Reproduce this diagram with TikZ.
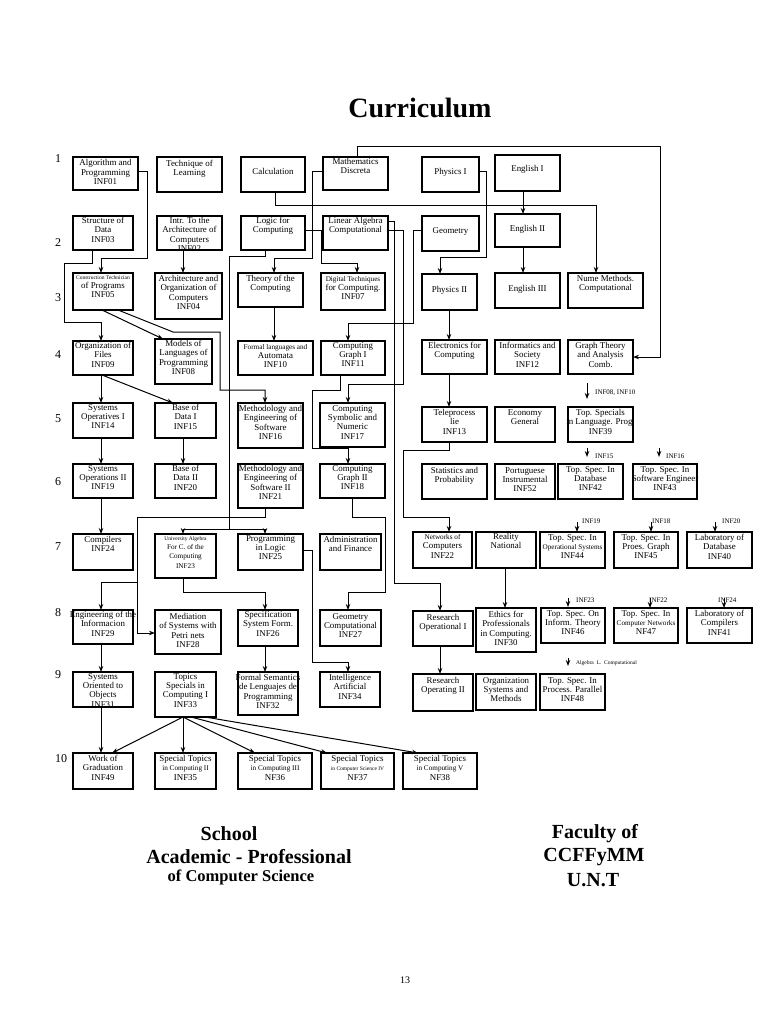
\documentclass[tikz,border=0pt]{standalone}
\usepackage{fontspec}
\setmainfont{Liberation Serif}
\usetikzlibrary{arrows.meta}
\newcommand\smtxt{\fontsize{7.2}{8}\selectfont}
\newcommand\tntxt{\fontsize{5.5}{7}\selectfont}
\newcommand\bx[7]{%
  \node[box, minimum width={#4-#2}, minimum height={#5-#3}] (#1) at ({(#2+#4)/2},{(#3+#5)/2}) {};
  \node[txt, anchor=north] (#1-t) at ({(#2+#4)/2},{#3+#6}) {#7};}
\begin{document}
\begin{tikzpicture}[x=1pt,y=-1pt,
  box/.style={draw, line width=1.2pt, inner sep=0pt, outer sep=0pt},
  txt/.style={font=\fontsize{8.9}{9.4}\selectfont, align=center, inner sep=0pt},
  con/.style={line width=1pt},
  arr/.style={con, -{Stealth[length=6pt,width=4.5pt]}},
  lab/.style={font=\fontsize{7}{7}\selectfont, inner sep=0pt, anchor=west},
  rn/.style={font=\fontsize{12}{12}\selectfont, inner sep=0pt},
  bt/.style={font=\bfseries\fontsize{20}{20}\selectfont, inner sep=0pt}]
\useasboundingbox[fill=white] (0,0) rectangle (768,1024);

\node[font=\bfseries\fontsize{28}{28}\selectfont, inner sep=0pt] (title) at (420,108) {Curriculum};

\node[rn] (r1) at (58,159) {1};
\node[rn] (r2) at (58,243) {2};
\node[rn] (r3) at (58,298) {3};
\node[rn] (r4) at (58,355) {4};
\node[rn] (r5) at (58,419) {5};
\node[rn] (r6) at (58,482) {6};
\node[rn] (r7) at (58,547) {7};
\node[rn] (r8) at (58,613) {8};
\node[rn] (r9) at (58,675) {9};
\node[rn] (r10) at (61,759) {10};

% row 1
\bx{inf01}{73}{157}{138}{190}{2.5}{Algorithm and\\Programming\\INF01}
\bx{tec}{157}{157}{222}{192}{3}{Technique of\\Learning}
\bx{calc}{241}{157}{305}{192}{11}{Calculation}
\bx{math}{323}{157}{388}{190}{1}{Mathematics\\Discreta}
\bx{phys1}{422}{157}{479}{192}{11}{Physics I}
\bx{eng1}{495}{155}{560}{191}{10}{English I}
% row 2
\bx{inf03}{73}{216}{133}{250}{1}{Structure of\\Data\\INF03}
\bx{inf02}{157}{216}{222}{250}{1}{Intr. To the\\Architecture of\\Computers\\INF02}
\bx{logic}{241}{216}{305}{250}{1}{Logic for\\Computing}
\bx{linalg}{323}{216}{388}{250}{1}{Linear Algebra\\Computational}
\bx{geom}{422}{216}{479}{251}{11}{Geometry}
\bx{eng2}{495}{214}{560}{247}{11}{English II}
% row 3
\bx{inf05}{73}{273}{133}{310}{2}{{\tntxt Construction Technician}\\of Programs\\INF05}
\bx{inf04}{155}{273}{222}{319}{2}{Architecture and\\Organization of\\Computers\\INF04}
\bx{theory}{238}{273}{303}{307}{2}{Theory of the\\Computing}
\bx{inf07}{321}{273}{385}{310}{3}{{\smtxt Digital Techniques}\\for Computing.\\INF07}
\bx{phys2}{422}{274}{477}{310}{12}{Physics II}
\bx{eng3}{495}{273}{560}{308}{12}{English III}
\bx{nume}{568}{273}{643}{308}{2}{Nume Methods.\\Computational}
% row 4
\bx{inf09}{73}{341}{133}{375}{1}{Organization of\\Files\\INF09}
\bx{inf08}{155}{339}{212}{384}{1}{Models of\\Languages of\\Programming\\INF08}
\bx{inf10}{238}{341}{313}{375}{3}{{\smtxt Formal languages and}\\Automata\\INF10}
\bx{inf11}{321}{341}{385}{375}{1}{Computing\\Graph I\\INF11}
\bx{elec}{422}{340}{487}{374}{2}{Electronics for\\Computing}
\bx{inf12}{495}{340}{560}{374}{2}{Informatics and\\Society\\INF12}
\bx{graph}{568}{340}{633}{374}{2}{Graph Theory\\and Analysis\\Comb.}
% row 5
\bx{inf14}{73}{403}{133}{438}{1}{Systems\\Operatives I\\INF14}
\bx{inf15}{155}{403}{216}{438}{1}{Base of\\Data I\\INF15}
\bx{inf16}{238}{403}{303}{448}{2}{Methodology and\\Engineering of\\Software\\INF16}
\bx{inf17}{320}{403}{385}{447}{2}{Computing\\Symbolic and\\Numeric\\INF17}
\bx{inf13}{422}{407}{487}{442}{2}{Teleprocess\\lie\\INF13}
\bx{econ}{495}{407}{555}{442}{2}{Economy\\General}
\bx{inf39}{568}{407}{633}{442}{2}{Top. Specials\\in Language. Prog.\\INF39}
% row 6
\bx{inf19}{73}{464}{133}{498}{1}{Systems\\Operations II\\INF19}
\bx{inf20}{155}{464}{216}{498}{1}{Base of\\Data II\\INF20}
\bx{inf21}{238}{464}{303}{508}{1}{Methodology and\\Engineering of\\Software II\\INF21}
\bx{inf18}{320}{464}{385}{498}{1}{Computing\\Graph II\\INF18}
\bx{stat}{422}{464}{487}{499}{3}{Statistics and\\Probability}
\bx{inf52}{495}{464}{555}{499}{3}{Portuguese\\Instrumental\\INF52}
\bx{inf42}{558}{464}{623}{499}{2}{Top. Spec. In\\Database\\INF42}
\bx{inf43}{633}{464}{697}{499}{2}{Top. Spec. In\\Software Engineer\\INF43}
% row 7
\bx{inf24}{73}{534}{133}{570}{2}{Compilers\\INF24}
\bx{inf23}{155}{534}{216}{578}{2}{{\tntxt University Algebra}\\{\smtxt For C. of the}\\{\smtxt Computing}\\{\smtxt INF23}}
\bx{inf25}{238}{534}{303}{570}{1}{Programming\\in Logic\\INF25}
\bx{admin}{320}{534}{381}{570}{2}{Administration\\and Finance}
\bx{inf22}{413}{532}{472}{568}{2}{{\smtxt Networks of}\\Computers\\INF22}
\bx{real}{476}{532}{536}{568}{1}{Reality\\National}
\bx{inf44}{540}{532}{605}{568}{2}{Top. Spec. In\\{\smtxt Operational Systems}\\INF44}
\bx{inf45}{614}{532}{678}{568}{2}{Top. Spec. In\\Proes. Graph\\INF45}
\bx{inf40}{687}{532}{752}{568}{2}{Laboratory of\\Database\\INF40}
% row 8
\bx{inf29}{73}{610}{133}{644}{1}{Engineering of the\\Informacion\\INF29}
\bx{inf28}{155}{610}{221}{654}{3}{Mediation\\of Systems with\\Petri nets\\INF28}
\bx{inf26}{238}{610}{298}{646}{1}{Specification\\System Form.\\INF26}
\bx{inf27}{320}{610}{381}{646}{3}{Geometry\\Computational\\INF27}
\bx{res1}{413}{611}{473}{646}{3}{Research\\Operational I}
\bx{inf30}{476}{608}{536}{652}{3}{Ethics for\\Professionals\\in Computing.\\INF30}
\bx{inf46}{541}{608}{605}{643}{2}{Top. Spec. On\\Inform. Theory\\INF46}
\bx{inf47}{614}{608}{678}{643}{2}{Top. Spec. In\\{\smtxt Computer Networks}\\NF47}
\bx{inf41}{687}{608}{752}{643}{2}{Laboratory of\\Compilers\\INF41}
% row 9
\bx{inf31}{73}{672}{133}{707}{1}{Systems\\Oriented to\\Objects\\INF31}
\bx{inf33}{155}{672}{216}{717}{1}{Topics\\Specials in\\Computing I\\INF33}
\bx{inf32}{238}{672}{298}{715}{2}{Formal Semantics\\de Lenguajes de\\Programming\\INF32}
\bx{inf34}{320}{672}{380}{707}{2}{Intelligence\\Artificial\\INF34}
\bx{res2}{413}{674}{473}{711}{3}{Research\\Operating II}
\bx{org}{476}{674}{536}{710}{3}{Organization\\Systems and\\Methods}
\bx{inf48}{540}{674}{605}{710}{3}{Top. Spec. In\\Process. Parallel\\INF48}
% row 10
\bx{inf49}{73}{753}{133}{789}{2}{Work of\\Graduation\\INF49}
\bx{inf35}{155}{753}{216}{789}{2}{Special Topics\\{\smtxt in Computing II}\\INF35}
\bx{nf36}{238}{753}{312}{789}{2}{Special Topics\\{\smtxt in Computing III}\\NF36}
\bx{nf37}{321}{753}{394}{789}{2}{Special Topics\\{\tntxt in Computer Science IV}\\NF37}
\bx{nf38}{403}{753}{477}{789}{2}{Special Topics\\{\smtxt in Computing V}\\NF38}

% connectors
\draw[arr] (inf01.east|-0,172) -- (147,172) -- (147,258) -- (101,258) -- (101,0|-inf05.north);
\draw[arr] (92,0|-inf03.south) -- (92,263) -- (64,263) -- (64,322) -- (101,322) -- (101,0|-inf09.north);
\draw[arr] (183,0|-inf02.south) -- (183,0|-inf04.north);
\coordinate (j1) at (229,529);
\draw[con] (265,0|-logic.south) -- (265,256) -- (229,256) -- (j1);
\draw[arr] (j1) -| (183,0|-inf23.north);
\draw[arr] (j1) -| (265,0|-inf25.north);
\draw[arr] (275,0|-calc.south) -- (275,206) -- (596,206) -- (596,0|-nume.north);
\draw[arr] (357,0|-math.north) -- (357,147) -- (660,147) -- (660,357) -- (graph.east|-0,357);
\draw[arr] (math.west|-0,172) -- (312,172) -- (312,258) -- (274,258) -- (274,0|-theory.north);
\draw[arr] (logic.east|-0,231) -- (321,231) -- (321,263) -- (357,263) -- (357,0|-inf07.north);
\draw[arr] (geom.west|-0,231) -- (413,231) -- (413,323) -- (348,323) -- (348,0|-inf11.north);
\draw[arr] (linalg.east|-0,231) -- (403,231) -- (403,384) -- (348,384) -- (348,0|-inf17.north);
\draw[arr] (linalg.east|-0,222) -- (394,222) -- (394,583) -- (440,583) -- (440,0|-res1.north);
\draw[arr] (340,0|-inf11.south) -- (340,390) -- (312,390) -- (312,448) -- (348,448) -- (348,0|-inf18.north);
\draw[arr] (102,0|-inf05.south) -- (163,0|-inf08.north);
\draw[arr] (118,0|-inf05.south) -- (173,332) -- (220,332) -- (220,390) -- (265,390) -- (265,0|-inf16.north);
\draw[arr] (102,0|-inf09.south) -- (173,0|-inf15.north);
\draw[arr] (101,0|-inf09.south) -- (101,0|-inf14.north);
\draw[arr] (101,0|-inf14.south) -- (101,0|-inf19.north);
\draw[arr] (183,0|-inf15.south) -- (183,0|-inf20.north);
\draw[arr] (101,0|-inf19.south) -- (101,0|-inf24.north);
\draw[arr] (274,0|-theory.south) -- (274,0|-inf10.north);
\draw[arr] (phys1.east|-0,172) -- (486,172) -- (486,257) -- (440,257) -- (440,0|-phys2.north);
\draw[arr] (523,0|-eng1.south) -- (523,0|-eng2.north);
\draw[arr] (523,0|-eng2.south) -- (523,0|-eng3.north);
\draw[arr] (449,0|-phys2.south) -- (449,0|-elec.north);
\draw[arr] (449,0|-elec.south) -- (449,0|-inf13.north);
\draw[arr] (449,0|-inf13.south) -- (449,450) -- (403,450) -- (403,517) -- (449,517) -- (449,0|-inf22.north);
\draw[arr] (352,0|-inf18.south) -- (352,517) -- (385,517) -- (385,592) -- (348,592) -- (348,0|-inf27.north);
\draw[arr] (inf25.east|-0,550) -- (312,550) -- (312,662) -- (348,662) -- (348,0|-inf34.north);
\coordinate (j2) at (137,633);
\coordinate (j3) at (137,582);
\draw[con] (265,0|-inf21.south) -- (265,517) -- (137,517) -- (j2);
\draw[arr] (j2) -- (inf28.west|-j2);
\draw[arr] (j3) -- (101,582) -- (101,0|-inf29.north);
\draw[arr] (183,0|-inf23.south) -- (183,592) -- (265,592) -- (265,0|-inf26.north);
\draw[arr] (265,0|-inf26.south) -- (265,0|-inf32.north);
\draw[arr] (101,0|-inf29.south) -- (101,0|-inf31.north);
\draw[arr] (101,0|-inf31.south) -- (101,0|-inf49.north);
\draw[arr] (183,0|-inf33.south) -- (112,0|-inf49.north);
\draw[arr] (183,0|-inf33.south) -- (183,0|-inf35.north);
\draw[arr] (183,0|-inf33.south) -- (255,0|-nf36.north);
\draw[arr] (191,0|-inf33.south) -- (327,0|-nf37.north);
\draw[arr] (205,0|-inf33.south) -- (418,0|-nf38.north);
\draw[arr] (505,0|-real.south) -- (505,0|-inf30.north);
\draw[arr] (440,0|-res1.south) -- (440,0|-res2.north);

% prerequisite labels
\coordinate (a1) at (587,383); \draw[arr] (a1) -- ++(0,16);
\node[lab] (l1) at (595,393) {INF08, INF10};
\coordinate (a2) at (587,448); \draw[arr] (a2) -- ++(0,9);
\node[lab] (l2) at (595,456) {INF15};
\coordinate (a3) at (659,448); \draw[arr] (a3) -- ++(0,9);
\node[lab] (l3) at (666,456) {INF16};
\coordinate (a4) at (577,522); \draw[arr] (a4) -- (a4|-inf44.north);
\node[lab] (l4) at (582,521) {INF19};
\coordinate (a5) at (651,522); \draw[arr] (a5) -- (a5|-inf45.north);
\node[lab] (l5) at (652,521) {INF18};
\coordinate (a6) at (715,522); \draw[arr] (a6) -- (a6|-inf40.north);
\node[lab] (l6) at (722,521) {INF20};
\coordinate (a7) at (568,598); \draw[arr] (a7) -- ++(0,9);
\node[lab] (l7) at (576,600) {INF23};
\coordinate (a8) at (650,598); \draw[arr] (a8) -- (a8|-inf47.north);
\node[lab] (l8) at (649,600) {INF22};
\coordinate (a9) at (724,598); \draw[arr] (a9) -- (a9|-inf41.north);
\node[lab] (l9) at (718,600) {INF24};
\coordinate (a10) at (568,658); \draw[arr] (a10) -- ++(0,8);
\node[lab, font=\fontsize{5.5}{6}\selectfont] (l10) at (576,663) {Algebra \ L. \ Computational};

% bottom texts
\node[bt] (b1) at (229,834) {School};
\node[bt] (b2) at (249,857) {Academic - Professional};
\node[bt, font=\bfseries\fontsize{16.5}{16.5}\selectfont] (b3) at (241,877) {of Computer Science};
\node[bt] (b4) at (595,834) {Faculty of};
\node[bt] (b5) at (594,857) {CCFFyMM};
\node[bt] (b6) at (593,880) {U.N.T};
\node[font=\fontsize{10}{10}\selectfont, inner sep=0pt] (pg) at (405,980) {13};
\end{tikzpicture}
\end{document}
